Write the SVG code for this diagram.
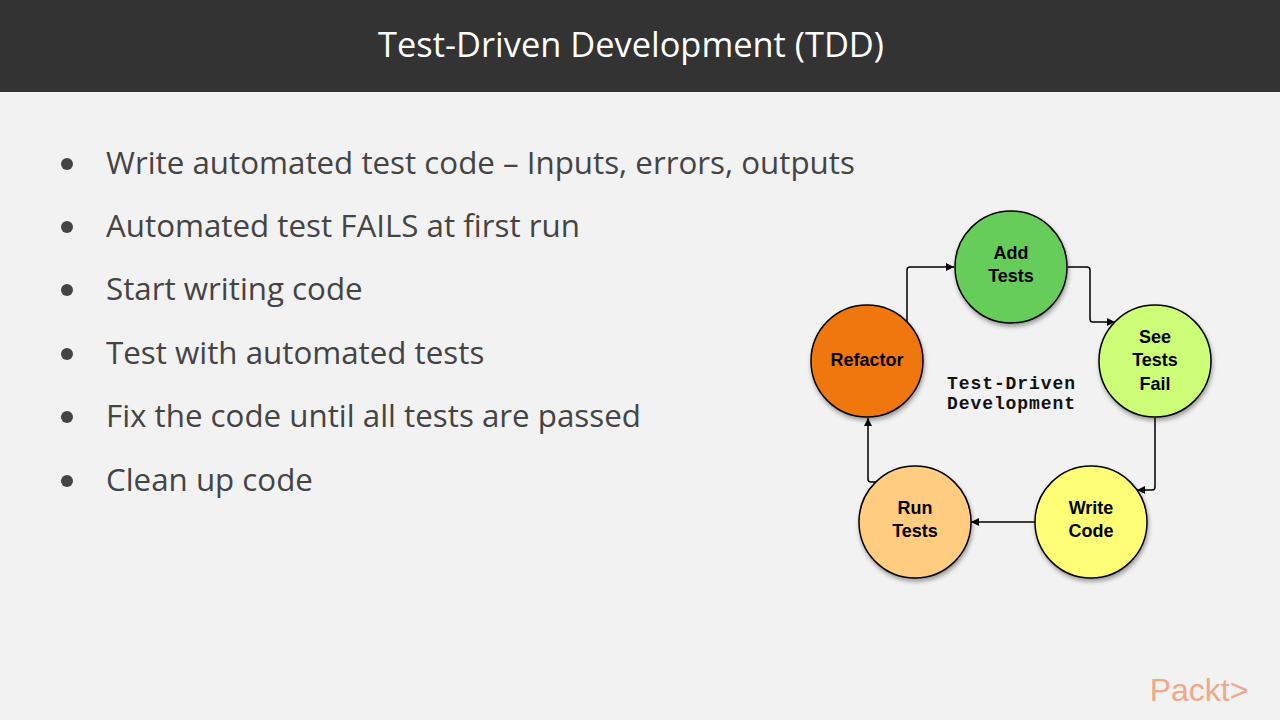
<svg xmlns="http://www.w3.org/2000/svg" width="1280" height="720" viewBox="0 0 1280 720">
<style>
.b{font-family:"Open Sans","Liberation Sans",sans-serif;font-size:31.3px;fill:#444}
.n{stroke:#000;stroke-width:1.5}
.l{font-family:"Liberation Sans",Arial,sans-serif;font-weight:bold;font-size:18px;fill:#000;text-anchor:middle}
.c{fill:none;stroke:#000;stroke-width:1.5}
.m{font-family:"Liberation Mono",monospace;font-weight:bold;font-size:18px;fill:#111;text-anchor:middle}
</style>
<defs>
<marker id="a" viewBox="0 0 10 10" refX="10" refY="5" markerWidth="8" markerHeight="8" orient="auto" markerUnits="userSpaceOnUse"><path d="M0,0L10,5L0,10z" fill="#000"/></marker>
<filter id="s"><feDropShadow dx="1" dy="3" stdDeviation="2" flood-opacity="0.35"/></filter>
</defs>
<rect width="1280" height="720" fill="#f2f2f2"/>
<rect width="1280" height="92" fill="#333"/>
<text x="631" y="57" text-anchor="middle" font-family="'Open Sans','Liberation Sans',sans-serif" font-size="34.4" fill="#fff">Test-Driven Development (TDD)</text>
<g fill="#444">
<circle cx="67" cy="164" r="6"/><circle cx="67" cy="227" r="6"/><circle cx="67" cy="290" r="6"/><circle cx="67" cy="354" r="6"/><circle cx="67" cy="417" r="6"/><circle cx="67" cy="481" r="6"/>
</g>
<text class="b" x="106" y="174">Write automated test code – Inputs, errors, outputs</text>
<text class="b" x="106" y="237">Automated test FAILS at first run</text>
<text class="b" x="106" y="300">Start writing code</text>
<text class="b" x="106" y="364">Test with automated tests</text>
<text class="b" x="106" y="427">Fix the code until all tests are passed</text>
<text class="b" x="106" y="491">Clean up code</text>
<g id="connectors">
<path class="c" d="M907,322V270Q907,267 910,267H954" marker-end="url(#a)"/>
<path class="c" d="M1068,267H1087Q1090,267 1090,270V319Q1090,322 1093,322H1115" marker-end="url(#a)"/>
<path class="c" d="M1155,418V487Q1155,490 1152,490H1137" marker-end="url(#a)"/>
<path class="c" d="M1035,522H971" marker-end="url(#a)"/>
<path class="c" d="M878,482H871Q868,482 868,479V418" marker-end="url(#a)"/>
</g>
<g id="add"><circle class="n" cx="1011" cy="267" r="56" fill="#66cc5a" filter="url(#s)"/><text class="l" x="1011" y="259">Add</text><text class="l" x="1011" y="282">Tests</text></g>
<g id="fail"><circle class="n" cx="1155" cy="361" r="56" fill="#ccff77" filter="url(#s)"/><text class="l" x="1155" y="343">See</text><text class="l" x="1155" y="366">Tests</text><text class="l" x="1155" y="390">Fail</text></g>
<g id="write"><circle class="n" cx="1091" cy="522" r="56" fill="#ffff77" filter="url(#s)"/><text class="l" x="1091" y="514">Write</text><text class="l" x="1091" y="537">Code</text></g>
<g id="run"><circle class="n" cx="915" cy="522" r="56" fill="#ffcc80" filter="url(#s)"/><text class="l" x="915" y="514">Run</text><text class="l" x="915" y="537">Tests</text></g>
<g id="refactor"><circle class="n" cx="867" cy="361" r="56" fill="#ef7711" filter="url(#s)"/><text class="l" x="867" y="366">Refactor</text></g>
<text class="m" x="1011" y="389" textLength="128">Test-Driven</text>
<text class="m" x="1011" y="409" textLength="128">Development</text>
<text x="1199" y="701" text-anchor="middle" font-family="'Liberation Sans',sans-serif" font-size="32" fill="#f0a88a">Packt&gt;</text>
</svg>
